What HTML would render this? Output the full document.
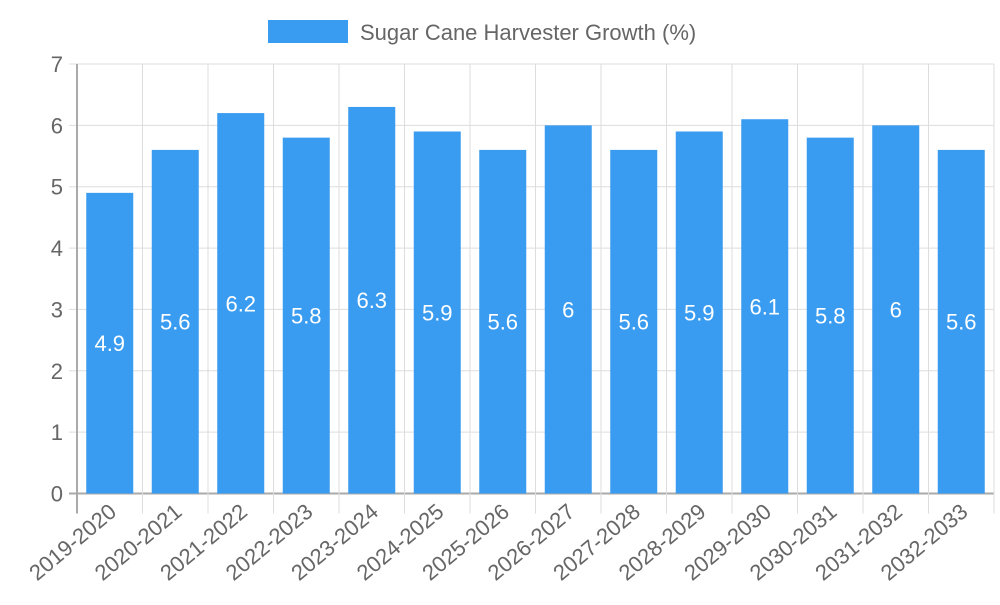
<!DOCTYPE html>
<html><head><meta charset="utf-8"><style>
body{margin:0;background:#fff}
svg{font-family:"Liberation Sans",sans-serif}
</style></head><body>
<svg id="chart" width="1000" height="600" viewBox="0 0 1000 600" xmlns="http://www.w3.org/2000/svg">
<g>
<rect x="268" y="20" width="80" height="23" fill="#3a9cf0"/>
<text x="360" y="40" font-size="22" fill="#666">Sugar Cane Harvester Growth (%)</text>
</g>
<g id="grid"></g><g id="bars"></g><g id="axes"></g>
</svg>
<script>
const categories=["2019-2020","2020-2021","2021-2022","2022-2023","2023-2024","2024-2025","2025-2026","2026-2027","2027-2028","2028-2029","2029-2030","2030-2031","2031-2032","2032-2033"];
const values=[4.9,5.6,6.2,5.8,6.3,5.9,5.6,6,5.6,5.9,6.1,5.8,6,5.6];
const yTicks=[0,1,2,3,4,5,6,7];
const NS="http://www.w3.org/2000/svg";
const X0=77,X1=994,Y0=493.5,Y1=64,YMAX=7;
const step=(X1-X0)/categories.length;
const y=v=>Y0-(v/YMAX)*(Y0-Y1);
const xc=i=>X0+step*(i+0.5);
function mk(tag,attrs,parent){const e=document.createElementNS(NS,tag);for(const k in attrs)e.setAttribute(k,attrs[k]);parent.appendChild(e);return e;}
const grid=document.getElementById('grid'),bars=document.getElementById('bars'),axes=document.getElementById('axes');
yTicks.forEach(t=>{
 const l=mk('line',{x1:X0-8,x2:X1,y1:y(t),y2:y(t),stroke:t===0?'#aaa':'#ddd','stroke-width':t===0?2:1},grid);
 
 
 const tx=mk('text',{x:X0-14,y:y(t)+8,'text-anchor':'end','font-size':22,fill:'#666'},axes);
 tx.textContent=t;
 
 
});
for(let i=0;i<=categories.length;i++){
 const x=X0+step*i;
 const l=mk('line',{x1:x,x2:x,y1:Y1,y2:Y0+20,stroke:i===0?'#aaa':'#ddd','stroke-width':i===0?2:1},grid);
 
 
}
categories.forEach((c,i)=>{
 const bw=47;
 const r=mk('rect',{x:xc(i)-bw/2,y:y(values[i]),width:bw,height:Y0-y(values[i]),fill:'#3a9cf0'},bars);
 
 
 const vt=mk('text',{x:xc(i),y:(y(values[i])+Y0)/2+8,'text-anchor':'middle','font-size':22,fill:'#fff'},bars);
 vt.textContent=values[i];
 
 
 const cx=xc(i)+8,cy=514;
 const xt=mk('text',{x:cx,y:cy,'text-anchor':'end','font-size':22,fill:'#666',transform:`rotate(-40 ${cx} ${cy})`},axes);
 xt.textContent=c;
 
 
});
</script>
</body></html>
